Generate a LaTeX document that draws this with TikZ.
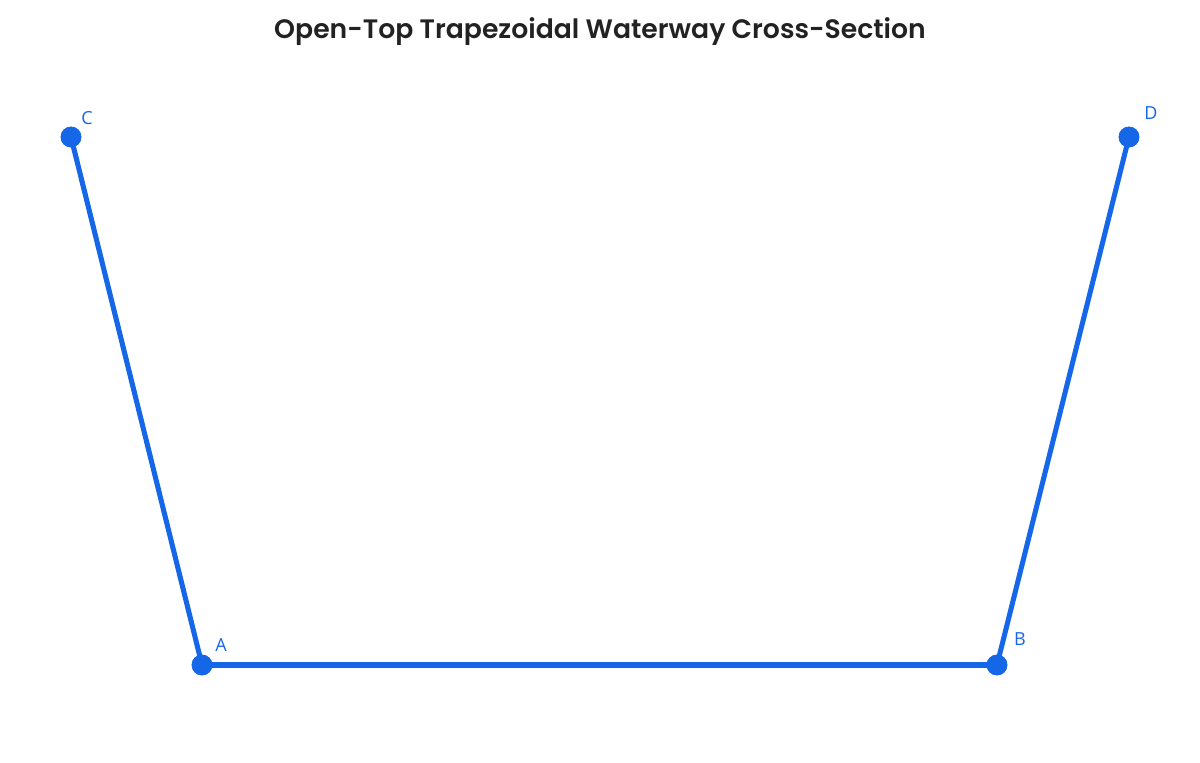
\documentclass[tikz,border=0pt]{standalone}
\usepackage{fontspec}
\setmainfont{Poppins}
\newfontfamily\titlefont{Poppins}[UprightFont=* SemiBold]
\newfontfamily\lblfont{Open Sans}
\definecolor{chanBlue}{RGB}{22, 102, 232}
\definecolor{titleGray}{RGB}{34, 34, 34}

\begin{document}
\begin{tikzpicture}[x=0.75pt,y=-0.75pt,
		dot/.style={fill=chanBlue, circle, inner sep=0pt, minimum size=15.5pt},
		lbl/.style={text=chanBlue, font=\lblfont\fontsize{13.5}{14}\selectfont, inner sep=0pt},
		wall/.style={draw=chanBlue, line width=3.8pt}]
			\useasboundingbox (0,0) rectangle (1200,763);
			\node[text=titleGray, font=\titlefont\fontsize{20}{24}\selectfont] (title) at (600,32) {Open-Top Trapezoidal Waterway Cross-Section};

			\draw (202,665) node[dot] (A) {};
			\draw (997,665) node[dot] (B) {};
			\draw (71,137) node[dot] (C) {};
			\draw (1129,137) node[dot] (D) {};

			\path[wall]
			(C.center) edge (A.center)
			(A.center) edge (B.center)
			(B.center) edge (D.center)
			;
			\draw (A) node[dot] {};
			\draw (B) node[dot] {};
			\draw (C) node[dot] {};
			\draw (D) node[dot] {};

			\node[lbl] (lA) at (221,645) {A};
			\node[lbl] (lB) at (1020,639) {B};
			\node[lbl] (lC) at (87,118) {C};
			\node[lbl] (lD) at (1151,113) {D};
		\end{tikzpicture}
\end{document}
